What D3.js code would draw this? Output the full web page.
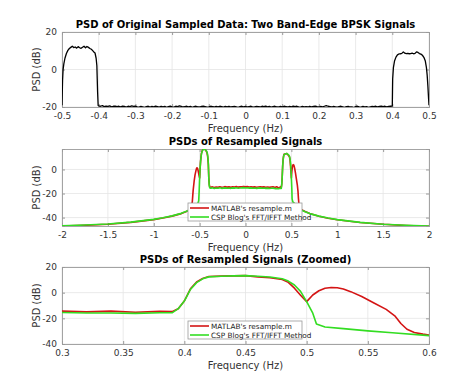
<!DOCTYPE html>
<html><head><meta charset="utf-8">
<script src="https://cdn.jsdelivr.net/npm/d3@7"></script>
<style>body{margin:0;background:#fff}svg{display:block}text{font-family:"DejaVu Sans",sans-serif}</style>
</head><body><svg id="c" width="474" height="392"></svg>
<script>
// ---------- Panel 1: original sampled data ----------
const p1LeftFreq = [-0.5,-0.4985,-0.497,-0.495,-0.492,-0.488,-0.484,-0.48,-0.476,-0.472,-0.468,-0.464,-0.46,-0.456,-0.452,-0.448,-0.444,-0.44,-0.436,-0.432,-0.428,-0.424,-0.42,-0.417,-0.414,-0.41,-0.407,-0.405,-0.404,-0.403,-0.4015];
const p1LeftPsd  = [-19,-6,0,3,6,8.5,10.2,11.2,11.8,12.4,11.7,12.0,11.4,12.2,11.6,11.3,11.9,12.4,11.6,12.3,11.8,11.2,10.8,10.2,9.5,8.8,6,2,-5,-12,-19.2];
const p1NoiseStart = -0.4, p1NoiseStep = 0.005;
const p1NoisePsd = [
-19.4,-19.6,-19.3,-19.8,-19.5,-19.7,-19.4,-19.9,-19.6,-19.5,
-19.8,-19.6,-19.9,-19.5,-19.7,-20.0,-19.6,-19.8,-19.4,-19.7,
-19.5,-19.9,-20.1,-19.7,-19.9,-20.2,-19.8,-19.6,-20.0,-19.7,
-19.9,-19.5,-19.8,-20.1,-19.6,-19.9,-19.7,-20.2,-19.8,-19.5,
-19.9,-20.1,-19.6,-19.8,-19.4,-19.7,-20.0,-19.8,-19.6,-19.9,
-19.7,-20.2,-19.8,-19.6,-19.9,-20.0,-19.7,-19.5,-19.8,-20.1,
-19.9,-19.6,-19.8,-20.0,-19.7,-19.9,-19.6,-19.8,-20.1,-19.7,
-19.9,-19.6,-20.0,-19.8,-19.7,-19.9,-20.2,-19.8,-19.6,-19.9,
-19.7,-20.0,-19.8,-19.6,-20.1,-19.9,-19.7,-19.8,-20.0,-19.6,
-19.8,-19.5,-19.9,-19.7,-20.1,-19.8,-19.6,-19.9,-20.0,-19.7,
-19.9,-19.6,-19.8,-20.0,-19.7,-19.9,-19.5,-19.8,-19.6,-19.9,
-20.1,-19.7,-19.9,-19.8,-20.0,-19.6,-19.9,-19.7,-19.5,-19.8,
-20.0,-19.7,-19.9,-19.6,-19.3,-19.6,-19.8,-20.0,-19.7,-19.9,
-20.1,-19.8,-19.6,-19.9,-20.2,-19.8,-19.7,-20.0,-19.9,-20.3,
-19.8,-19.6,-19.9,-20.1,-19.7,-19.9,-19.8,-20.2,-19.9,-19.7,
-19.8,-19.6,-19.9,-19.7,-19.5,-19.8,-19.6,-19.9,-19.7,-19.6,
-19.5];
const p1RightFreq = [0.4005,0.401,0.403,0.406,0.41,0.414,0.418,0.422,0.426,0.43,0.434,0.438,0.442,0.446,0.45,0.454,0.458,0.462,0.466,0.47,0.474,0.478,0.482,0.486,0.49,0.493,0.495,0.497,0.499,0.5];
const p1RightPsd  = [-12,-5,1,4.5,6.6,7.8,8.3,8.4,8.6,9.4,8.7,8.5,8.6,8.4,8.5,8.7,8.4,8.6,9.4,9.1,8.5,8.2,7.6,6.5,4.5,1,-3,-9,-16,-19];

// ---------- Panels 2 & 3: resampled signals ----------
const centerStart = -0.38, centerStep = 0.02;
const greenCenter = [-15.6,-15.3,-15.8,-15.4,-15.6,-15.2,-15.7,-15.5,-15.3,-15.6,-15.4,-15.7,-15.3,-15.5,-15.2,-15.6,-15.4,-15.3,-15.1,-15.4,-15.2,-15.5,-15.3,-15.6,-15.4,-15.7,-15.5,-15.3,-15.6,-15.4,-15.7,-15.5,-15.8,-15.6,-15.5,-15.9,-15.8,-16.1,-15.7];
const redCenter   = [-14.8,-14.5,-15.0,-14.6,-14.9,-14.4,-14.8,-14.6,-14.3,-14.7,-14.5,-14.9,-14.4,-14.6,-14.2,-14.7,-14.5,-14.4,-14.1,-14.5,-14.3,-14.6,-14.4,-14.7,-14.5,-14.8,-14.6,-14.4,-14.7,-14.5,-14.8,-14.6,-14.9,-14.6,-14.4,-15.0,-14.4,-15.3,-14.6];

const greenLeftFreq = [-2,-1.75,-1.5,-1.25,-1,-0.9,-0.8,-0.7,-0.65,-0.6,-0.57,-0.54,-0.52,-0.51,-0.505,-0.5,-0.495,-0.49,-0.485,-0.48,-0.47,-0.46,-0.45,-0.44,-0.43,-0.42,-0.415,-0.41,-0.405,-0.4,-0.395,-0.39];
const greenLeftPsd  = [-46.8,-46.2,-45.3,-43.8,-41.5,-40.2,-38.6,-36.5,-35,-33.3,-31.8,-30,-28.3,-26,-18,-7,1,6,10,13,15.5,16.8,17,16.5,15.8,14.5,13,10.5,5,-7,-13,-15.3];
const greenRightFreq = [0.39,0.395,0.4,0.405,0.41,0.415,0.42,0.43,0.44,0.45,0.46,0.47,0.48,0.485,0.49,0.495,0.5,0.505,0.508,0.515,0.53,0.55,0.57,0.6,0.65,0.7,0.8,0.9,1,1.25,1.5,1.75,2];
const greenRightPsd  = [-15.7,-12.5,-6.5,2.5,7.8,10.8,12.3,12.8,13.1,13.3,12.8,12.2,10.8,9,6,1,-7,-16,-24.5,-26.8,-28,-29.8,-31.2,-33.5,-35.2,-36.7,-38.8,-40.4,-41.7,-44,-45.5,-46.4,-47];

const redLeftFreq = [-2,-1.75,-1.5,-1.25,-1,-0.9,-0.8,-0.7,-0.65,-0.6,-0.59,-0.58,-0.575,-0.57,-0.56,-0.55,-0.54,-0.535,-0.53,-0.525,-0.52,-0.515,-0.51,-0.505,-0.5,-0.495,-0.49,-0.485,-0.48,-0.47,-0.46,-0.45,-0.44,-0.43,-0.42,-0.415,-0.41,-0.405,-0.4,-0.395,-0.39];
const redLeftPsd  = [-47,-46.4,-45.5,-44,-41.7,-40.4,-38.8,-36.7,-35.2,-33.3,-31.5,-27,-22,-17,-10,-4.5,-1,0.5,1.3,1.2,0.3,-1.5,-3.5,-5.5,-7,0,6.5,10.5,13.5,16,17,17,16.5,15.5,14,12,9,4,-7,-12.5,-14.7];
const redRightFreq = [0.39,0.395,0.4,0.405,0.41,0.415,0.42,0.43,0.44,0.45,0.46,0.47,0.48,0.485,0.49,0.495,0.5,0.505,0.51,0.515,0.52,0.525,0.53,0.536,0.545,0.555,0.565,0.572,0.577,0.582,0.588,0.595,0.6,0.65,0.7,0.8,0.9,1,1.25,1.5,1.75,2];
const redRightPsd  = [-14.8,-12.5,-6.5,3,8.3,11,12.6,12.9,13.1,13.3,12.3,11.6,10.3,8,3.5,-2,-7,-1.8,1.5,3.5,4,3.8,2.8,0.8,-3,-8,-13,-18,-24,-28.5,-31,-32.3,-33,-35,-36.6,-38.9,-40.5,-41.8,-44.1,-45.6,-46.6,-47.2];

const legendLabels = ["MATLAB's resample.m", "CSP Blog's FFT/IFFT Method"];
const seriesColors = ["#d41414", "#33dd22"];

const p1XTicks = [-0.5,-0.4,-0.3,-0.2,-0.1,0,0.1,0.2,0.3,0.4,0.5];
const p1YTicks = [-20,0,20];
const p2XTicks = [-2,-1.5,-1,-0.5,0,0.5,1,1.5,2];
const p2YTicks = [-40,-20,0];
const p3XTicks = [0.3,0.35,0.4,0.45,0.5,0.55,0.6];
const p3YTicks = [-40,-20,0,20];

// ---------- assemble point lists ----------
const zip = (f, p) => f.map((x, i) => ({x, y: p[i]}));
const p1Data = zip(p1LeftFreq, p1LeftPsd)
  .concat(p1NoisePsd.map((y, i) => ({x: p1NoiseStart + i * p1NoiseStep, y})))
  .concat(zip(p1RightFreq, p1RightPsd));
const center = (arr) => arr.map((y, i) => ({x: centerStart + i * centerStep, y}));
const redData = zip(redLeftFreq, redLeftPsd).concat(center(redCenter)).concat(zip(redRightFreq, redRightPsd));
const greenData = zip(greenLeftFreq, greenLeftPsd).concat(center(greenCenter)).concat(zip(greenRightFreq, greenRightPsd));

const svg = d3.select("#c");
const L = 62, R = 429;
const fmt = d => (d === 0 ? "0" : String(d));

function panel(o) {
  const x = d3.scaleLinear().domain(o.xd).range([L, R]);
  const y = d3.scaleLinear().domain(o.yd).range([o.bottom, o.top]);
  const g = svg.append("g");
  const id = "clip" + o.id;
  svg.append("clipPath").attr("id", id).append("rect")
    .attr("x", L).attr("y", o.top).attr("width", R - L).attr("height", o.bottom - o.top);
  // grid
  g.append("g").selectAll("line").data(o.xt).join("line")
    .attr("x1", d => x(d)).attr("x2", d => x(d)).attr("y1", o.top).attr("y2", o.bottom)
    .attr("stroke", "#e4e4e4").attr("stroke-width", 0.8);
  g.append("g").selectAll("line").data(o.yt).join("line")
    .attr("y1", d => y(d)).attr("y2", d => y(d)).attr("x1", L).attr("x2", R)
    .attr("stroke", "#e4e4e4").attr("stroke-width", 0.8);
  // axes via d3
  const ax = g.append("g").attr("transform", `translate(0,${o.bottom})`)
    .call(d3.axisBottom(x).tickValues(o.xt).tickFormat(fmt).tickSize(-3).tickPadding(6));
  const ay = g.append("g").attr("transform", `translate(${L},0)`)
    .call(d3.axisLeft(y).tickValues(o.yt).tickFormat(fmt).tickSize(-3).tickPadding(5));
  const axT = g.append("g").attr("transform", `translate(0,${o.top})`)
    .call(d3.axisTop(x).tickValues(o.xt).tickFormat("").tickSize(-3));
  const ayR = g.append("g").attr("transform", `translate(${R},0)`)
    .call(d3.axisRight(y).tickValues(o.yt).tickFormat("").tickSize(-3));
  [ax, ay, axT, ayR].forEach(a => {
    a.select(".domain").attr("stroke", "#9a9a9a").attr("stroke-width", 0.9);
    a.selectAll(".tick line").attr("stroke", "#9a9a9a");
    a.selectAll("text").attr("font-family", "DejaVu Sans").attr("font-size", 9).attr("fill", "#333");
  });
  // lines
  const line = d3.line().x(d => x(d.x)).y(d => y(d.y));
  o.series.forEach(s => {
    g.append("path").datum(s.data).attr("d", line).attr("fill", "none")
      .attr("stroke", s.color).attr("stroke-width", s.w).attr("stroke-linejoin", "round")
      .attr("clip-path", `url(#${id})`);
  });
  // titles
  g.append("text").attr("x", (L + R) / 2).attr("y", o.top - 4).attr("text-anchor", "middle")
    .attr("font-size", 10).attr("font-weight", "bold").attr("fill", "#000").text(o.title);
  g.append("text").attr("x", (L + R) / 2).attr("y", o.bottom + 25).attr("text-anchor", "middle")
    .attr("font-size", 10).attr("fill", "#333").text("Frequency (Hz)");
  g.append("text").attr("transform", `translate(40,${(o.top + o.bottom) / 2}) rotate(-90)`)
    .attr("text-anchor", "middle").attr("font-size", 10).attr("fill", "#333").text("PSD (dB)");
  // legend
  if (o.legend) {
    const lg = g.append("g").attr("transform", `translate(188,${o.legend})`);
    lg.append("rect").attr("x", 0).attr("y", 0).attr("width", 114).attr("height", 18)
      .attr("fill", "#fff").attr("stroke", "#9a9a9a").attr("stroke-width", 0.8);
    legendLabels.forEach((t, i) => {
      const yy = 5 + i * 9;
      lg.append("line").attr("x1", 2).attr("x2", 21).attr("y1", yy).attr("y2", yy)
        .attr("stroke", seriesColors[i]).attr("stroke-width", 1.6);
      lg.append("text").attr("x", 23).attr("y", yy + 2.6).attr("font-size", 7.3).attr("fill", "#222").text(t);
    });
  }
}

panel({id: 1, xd: [-0.5, 0.5], yd: [-20, 20], top: 32, bottom: 107, xt: p1XTicks, yt: p1YTicks,
  title: "PSD of Original Sampled Data: Two Band-Edge BPSK Signals",
  series: [{data: p1Data, color: "#000", w: 1.3}]});
panel({id: 2, xd: [-2, 2], yd: [-47, 17], top: 149, bottom: 226, xt: p2XTicks, yt: p2YTicks,
  title: "PSDs of Resampled Signals", legend: 203,
  series: [{data: redData, color: seriesColors[0], w: 1.6}, {data: greenData, color: seriesColors[1], w: 1.6}]});
panel({id: 3, xd: [0.3, 0.6], yd: [-40, 20], top: 267, bottom: 344, xt: p3XTicks, yt: p3YTicks,
  title: "PSDs of Resampled Signals (Zoomed)", legend: 321,
  series: [{data: redData, color: seriesColors[0], w: 1.6}, {data: greenData, color: seriesColors[1], w: 1.6}]});
</script></body></html>
